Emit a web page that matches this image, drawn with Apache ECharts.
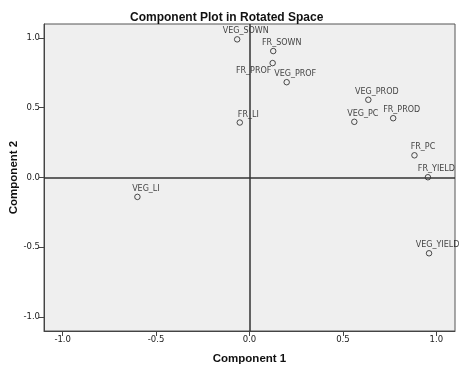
<!DOCTYPE html>
<html><head><meta charset="utf-8">
<script src="https://cdn.jsdelivr.net/npm/echarts@6/dist/echarts.min.js"></script>
<style>html,body{margin:0;padding:0;background:#fff}#c{width:474px;height:375px}</style>
</head><body><div id="c"></div>
<script>
// Data
const names = ['VEG_SOWN','FR_SOWN','FR_PROF','VEG_PROF','FR_LI','VEG_PROD','VEG_PC','FR_PROD','FR_PC','FR_YIELD','VEG_LI','VEG_YIELD'];
const comp1 = [-0.066, 0.127, 0.124, 0.199, -0.052, 0.636, 0.561, 0.769, 0.883, 0.955, -0.600, 0.961];
const comp2 = [0.990, 0.906, 0.820, 0.683, 0.394, 0.557, 0.399, 0.425, 0.159, 0.002, -0.139, -0.543];
const tickValues = [-1.0, -0.5, 0.0, 0.5, 1.0];

// Style: label offsets (px) relative to the marker
const labelOffsets = names.map(n => n === 'FR_PROF' ? [-19, 8] : [8.5, -8]);

const chart = echarts.init(document.getElementById('c'), null, {renderer: 'canvas'});
const data = names.map((n, i) => ({
  name: n,
  value: [comp1[i], comp2[i]],
  label: {offset: labelOffsets[i]}
}));
const tickFont = {fontFamily: 'DejaVu Sans', fontSize: 8.5, color: '#222'};
const axisCommon = {
  type: 'value', min: -1.1, max: 1.1,
  splitLine: {show: false},
  axisLine: {show: true, onZero: false, lineStyle: {color: '#444', width: 1}},
  axisTick: {show: true, length: 5, customValues: tickValues, lineStyle: {color: '#444'}},
  axisLabel: Object.assign({customValues: tickValues, formatter: v => v.toFixed(1), margin: 4}, tickFont),
  nameLocation: 'middle',
  nameMoveOverlap: false,
  nameTextStyle: {fontFamily: 'Liberation Sans', fontWeight: 'bold', fontSize: 11.5, color: '#111'}
};
chart.setOption({
  animation: false,
  backgroundColor: '#fff',
  title: {
    text: 'Component Plot in Rotated Space',
    left: 125, top: 7,
    textStyle: {fontFamily: 'Liberation Sans', fontWeight: 'bold', fontSize: 12, color: '#111'}
  },
  grid: {left: 44, right: 19, top: 24, bottom: 44, containLabel: false, outerBoundsMode: 'none', show: true, backgroundColor: '#efefef', borderColor: '#555', borderWidth: 1},
  xAxis: Object.assign({}, axisCommon, {name: 'Component 1', nameGap: 22}),
  yAxis: Object.assign({}, axisCommon, {name: 'Component 2', nameGap: 24, nameRotate: 90}),
  series: [{
    type: 'scatter',
    symbol: 'circle',
    symbolSize: 5.5,
    itemStyle: {color: 'transparent', borderColor: '#222', borderWidth: 1},
    label: {
      show: true, position: 'inside', align: 'center', verticalAlign: 'middle',
      formatter: p => p.name,
      fontFamily: 'DejaVu Sans', fontSize: 8, color: '#111'
    },
    data: data,
    markLine: {
      silent: true, symbol: 'none', label: {show: false},
      lineStyle: {color: '#333', width: 1.5, type: 'solid'},
      data: [{xAxis: 0}, {yAxis: 0}]
    },
    z: 3
  }]
});
</script></body></html>
